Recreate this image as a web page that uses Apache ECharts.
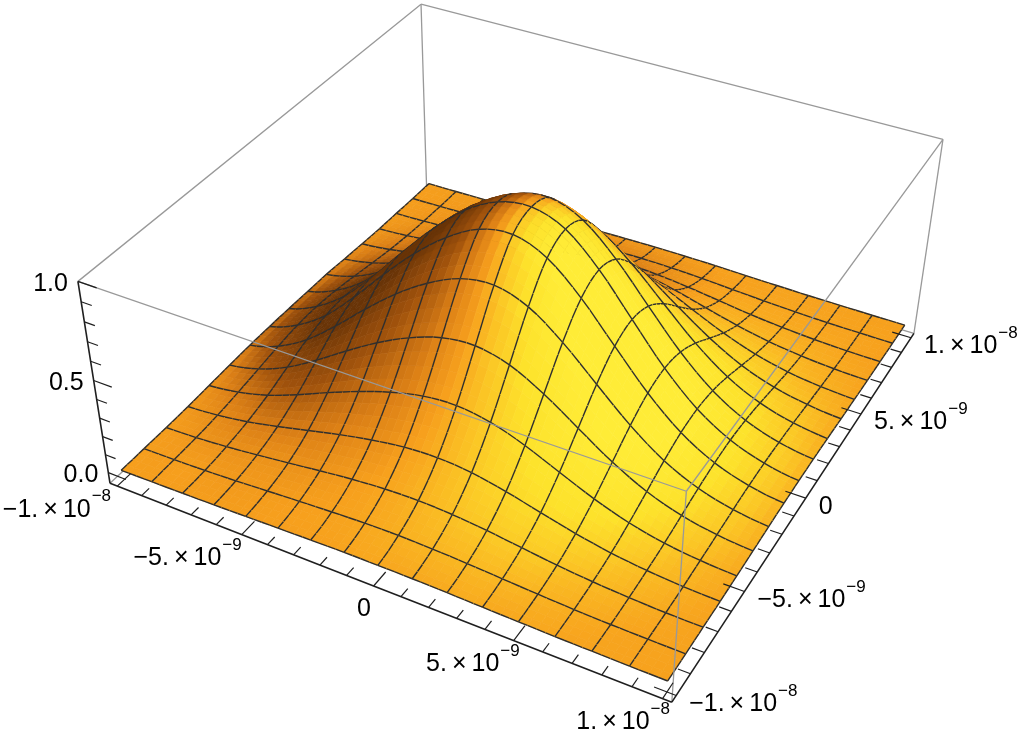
<!DOCTYPE html>
<html><head><meta charset="utf-8">
<script src="https://cdn.jsdelivr.net/npm/echarts@6/dist/echarts.min.js"></script>
<style>html,body{margin:0;padding:0;background:#fff}#c{width:1020px;height:741px}</style>
</head><body><div id="c"></div>
<script>
// ---------------- data ----------------
const GRID_X = [-1e-8,-8.75e-9,-7.5e-9,-6.25e-9,-5e-9,-3.75e-9,-2.5e-9,-1.25e-9,0,1.25e-9,2.5e-9,3.75e-9,5e-9,6.25e-9,7.5e-9,8.75e-9,1e-8];
const GRID_Y = [-1e-8,-8.75e-9,-7.5e-9,-6.25e-9,-5e-9,-3.75e-9,-2.5e-9,-1.25e-9,0,1.25e-9,2.5e-9,3.75e-9,5e-9,6.25e-9,7.5e-9,8.75e-9,1e-8];
// Z_VALUES[j][i] : j along y (front -> back), i along x (left corner -> front corner)
const Z_VALUES = [
[0.000,0.002,0.004,0.007,0.011,0.015,0.019,0.022,0.022,0.021,0.018,0.013,0.009,0.005,0.003,0.001,0.000],
[0.002,0.005,0.009,0.017,0.027,0.037,0.046,0.053,0.055,0.051,0.043,0.032,0.021,0.012,0.006,0.003,0.001],
[0.004,0.010,0.023,0.041,0.061,0.083,0.102,0.115,0.119,0.111,0.093,0.069,0.045,0.027,0.014,0.006,0.003],
[0.008,0.021,0.046,0.082,0.123,0.163,0.197,0.222,0.229,0.214,0.178,0.132,0.087,0.051,0.027,0.012,0.005],
[0.015,0.038,0.081,0.145,0.217,0.284,0.341,0.381,0.392,0.365,0.305,0.226,0.149,0.087,0.045,0.021,0.009],
[0.022,0.059,0.128,0.226,0.335,0.437,0.521,0.579,0.595,0.554,0.462,0.343,0.226,0.132,0.069,0.032,0.013],
[0.028,0.080,0.174,0.307,0.455,0.591,0.702,0.780,0.801,0.746,0.621,0.462,0.305,0.178,0.093,0.043,0.018],
[0.030,0.095,0.206,0.364,0.540,0.703,0.838,0.932,0.957,0.892,0.743,0.552,0.364,0.213,0.111,0.051,0.021],
[0.030,0.098,0.213,0.377,0.562,0.737,0.883,0.975,1.000,0.940,0.788,0.586,0.386,0.226,0.118,0.054,0.022],
[0.028,0.088,0.192,0.342,0.514,0.681,0.824,0.925,0.955,0.891,0.743,0.552,0.364,0.213,0.111,0.051,0.021],
[0.027,0.070,0.152,0.272,0.414,0.556,0.680,0.770,0.797,0.745,0.621,0.462,0.305,0.178,0.093,0.043,0.018],
[0.019,0.049,0.105,0.190,0.294,0.401,0.498,0.569,0.592,0.553,0.462,0.343,0.226,0.132,0.069,0.032,0.013],
[0.012,0.030,0.064,0.118,0.185,0.257,0.324,0.373,0.389,0.365,0.305,0.226,0.149,0.087,0.045,0.021,0.009],
[0.006,0.016,0.036,0.065,0.103,0.146,0.187,0.217,0.227,0.213,0.178,0.132,0.087,0.051,0.027,0.012,0.005],
[0.004,0.008,0.017,0.032,0.051,0.074,0.096,0.113,0.119,0.111,0.093,0.069,0.045,0.027,0.014,0.006,0.003],
[0.001,0.003,0.007,0.013,0.023,0.034,0.044,0.052,0.054,0.051,0.043,0.032,0.021,0.012,0.006,0.003,0.001],
[0.000,0.001,0.003,0.005,0.009,0.013,0.018,0.021,0.022,0.021,0.018,0.013,0.009,0.005,0.003,0.001,0.000]
];
const X_TICKS = [-1e-8,-5e-9,0,5e-9,1e-8];
const X_TICK_LABELS = [['−1.\u2009×\u200910','−8'],['−5.\u2009×\u200910','−9'],['0',''],['5.\u2009×\u200910','−9'],['1.\u2009×\u200910','−8']];
const Y_TICKS = [-1e-8,-5e-9,0,5e-9,1e-8];
const Y_TICK_LABELS = [['−1.\u2009×\u200910','−8'],['−5.\u2009×\u200910','−9'],['0',''],['5.\u2009×\u200910','−9'],['1.\u2009×\u200910','−8']];
const Z_TICKS = [0,0.5,1.0];
const Z_TICK_LABELS = ['0.0','0.5','1.0'];

// ---------------- view (camera calibration: box corner -> screen) ----------------
const VIEW = [
  [-1,-1,-1, 110,483],
  [ 1,-1,-1, 673,703],
  [ 1, 1,-1, 913,333],
  [-1,-1, 1,  78,282],
  [ 1,-1, 1, 685,490],
  [ 1, 1, 1, 944,140],
  [-1, 1, 1, 421,  4]
];
const PAD = 0.03, ZMIN = -0.06, ZMAX = 1.0, SUB = 4;
const X_LABEL_NUDGE = [0,0,0,-5,-10];

function solveLin(A, b){
  const n=b.length, M=A.map((r,i)=>r.concat([b[i]]));
  for(let c=0;c<n;c++){
    let p=c; for(let r=c+1;r<n;r++) if(Math.abs(M[r][c])>Math.abs(M[p][c])) p=r;
    const t=M[c]; M[c]=M[p]; M[p]=t;
    for(let r=0;r<n;r++){ if(r===c) continue; const f=M[r][c]/M[c][c]; for(let k=c;k<=n;k++) M[r][k]-=f*M[c][k]; }
  }
  return M.map((r,i)=>r[n]/r[i]);
}
const P = (function(){
  const rows=[], rhs=[];
  VIEW.forEach(([X,Y,Z,u,v])=>{
    rows.push([X,Y,Z,1,0,0,0,0,-u*X,-u*Y,-u*Z]); rhs.push(u);
    rows.push([0,0,0,0,X,Y,Z,1,-v*X,-v*Y,-v*Z]); rhs.push(v);
  });
  const AtA=[],Atb=[];
  for(let i=0;i<11;i++){ AtA.push(new Array(11).fill(0)); Atb.push(0); }
  rows.forEach((r,k)=>{ for(let i=0;i<11;i++){ Atb[i]+=r[i]*rhs[k]; for(let j=0;j<11;j++) AtA[i][j]+=r[i]*r[j]; } });
  return solveLin(AtA,Atb);
})();
function proj(X,Y,Z){
  const w=P[8]*X+P[9]*Y+P[10]*Z+1;
  return [(P[0]*X+P[1]*Y+P[2]*Z+P[3])/w,(P[4]*X+P[5]*Y+P[6]*Z+P[7])/w,w];
}
const XH = 1e-8*(1+PAD);
const nx = x=>x/XH, ny = y=>y/XH, nz = z=>2*(z-ZMIN)/(ZMAX-ZMIN)-1;

// ---------------- surface sampling (smooth drawing through grid values) ----------------
function cr(p0,p1,p2,p3,t){return 0.5*(2*p1+(-p0+p2)*t+(2*p0-5*p1+4*p2-p3)*t*t+(-p0+3*p1-3*p2+p3)*t*t*t);}
const NI=GRID_X.length-1, NJ=GRID_Y.length-1;
const cl=(v,a,b)=>Math.max(a,Math.min(b,v));
function zAt(gi,gj){
  const i=Math.min(Math.floor(gi),NI-1), t=gi-i, j=Math.min(Math.floor(gj),NJ-1), s=gj-j;
  const r=[];
  for(let k=-1;k<=2;k++){
    const row=Z_VALUES[cl(j+k,0,NJ)];
    r.push(cr(row[cl(i-1,0,NI)],row[i],row[cl(i+1,0,NI)],row[cl(i+2,0,NI)],t));
  }
  return cr(r[0],r[1],r[2],r[3],s);
}
function coordAt(arr,g){const i=Math.min(Math.floor(g),arr.length-2);return arr[i]+(g-i)*(arr[i+1]-arr[i]);}
const MF=NI*SUB, NF=NJ*SUB;
const S=[], W=[];
for(let q=0;q<=NF;q++){
  S.push([]); W.push([]);
  for(let p=0;p<=MF;p++){
    const gi=p/SUB, gj=q/SUB;
    const X=nx(coordAt(GRID_X,gi)), Y=ny(coordAt(GRID_Y,gj)), z=zAt(gi,gj), Z=nz(z);
    S[q].push(proj(X,Y,Z));
    W[q].push([X*0.5,Y*0.5,(Z+1)/2*0.4]);
  }
}
const wBack=proj(-1,1,-1)[2], wFront=proj(1,-1,-1)[2];
const farFirst = wBack>wFront ? -1 : 1;

const LIGHT=(function(){const v=[1,-0.3,0.55];const m=Math.hypot(...v);return v.map(a=>a/m);})();
const I0=LIGHT[2];
const STOPS=[[I0-0.6,[105,52,7]],[I0-0.32,[160,82,12]],[I0-0.13,[220,128,22]],[I0,[247,160,29]],[I0+0.15,[251,198,37]],[I0+0.3,[253,226,43]],[I0+0.46,[255,236,55]]];
function shade(n){
  const I=n[0]*LIGHT[0]+n[1]*LIGHT[1]+n[2]*LIGHT[2];
  if(I<=STOPS[0][0]) return 'rgb('+STOPS[0][1].join(',')+')';
  for(let k=1;k<STOPS.length;k++){
    if(I<=STOPS[k][0]){
      const a=STOPS[k-1],b=STOPS[k],t=(I-a[0])/(b[0]-a[0]);
      return 'rgb('+[0,1,2].map(c=>Math.round(a[1][c]+t*(b[1][c]-a[1][c]))).join(',')+')';
    }
  }
  return 'rgb('+STOPS[STOPS.length-1][1].join(',')+')';
}
const quads=[];
for(let q=0;q<NF;q++) for(let p=0;p<MF;p++){
  const a=W[q][p],b=W[q][p+1],c=W[q+1][p+1],d=W[q+1][p];
  const d1=[c[0]-a[0],c[1]-a[1],c[2]-a[2]], d2=[d[0]-b[0],d[1]-b[1],d[2]-b[2]];
  let n=[d1[1]*d2[2]-d1[2]*d2[1], d1[2]*d2[0]-d1[0]*d2[2], d1[0]*d2[1]-d1[1]*d2[0]];
  const m=Math.hypot(...n); n=n.map(v=>v/m); if(n[2]<0) n=n.map(v=>-v);
  const pts=[S[q][p],S[q][p+1],S[q+1][p+1],S[q+1][p]];
  const depth=(pts[0][2]+pts[1][2]+pts[2][2]+pts[3][2])/4;
  quads.push({p,q,pts,depth,color:shade(n),lines:[]});
}
const order=quads.map((_,k)=>k).sort((a,b)=>farFirst*(quads[a].depth-quads[b].depth));
const rank=new Array(quads.length); order.forEach((k,r)=>rank[k]=r);
const qi=(p,q)=>(p<0||q<0||p>=MF||q>=NF)?-1:q*MF+p;
function assign(seg,k1,k2){
  let k=k1; if(k<0||(k2>=0&&rank[k2]>rank[k1])) k=k2;
  quads[k].lines.push(seg);
}
for(let p=0;p<=MF;p+=SUB) for(let q=0;q<NF;q++) assign([S[q][p],S[q+1][p]],qi(p-1,q),qi(p,q));
for(let q=0;q<=NF;q+=SUB) for(let p=0;p<MF;p++) assign([S[q][p],S[q][p+1]],qi(p,q-1),qi(p,q));
const surfaceData=order.map(k=>{const Q=quads[k];return [(Q.pts[0][0]+Q.pts[2][0])/2,(Q.pts[0][1]+Q.pts[2][1])/2,k];});

// ---------------- frame ----------------
const C={};
[[-1,-1],[1,-1],[1,1],[-1,1]].forEach(([X,Y],i)=>{const nm=['L','F','R','B'][i];C[nm+'0']=[X,Y,-1];C[nm+'1']=[X,Y,1];});
const BACK_EDGES=[['R0','B0'],['B0','L0'],['B0','B1']];
const GRAY_EDGES=[['L1','F1'],['F1','R1'],['R1','B1'],['B1','L1'],['F0','F1'],['R0','R1']];
const AXIS_EDGES=[['L0','F0'],['F0','R0'],['L0','L1']];

function lineEl(api,a,b,stroke,w){
  const A=api.coord([a[0],a[1]]),B=api.coord([b[0],b[1]]);
  return {type:'line',shape:{x1:A[0],y1:A[1],x2:B[0],y2:B[1]},style:{stroke:stroke,lineWidth:w}};
}
const pc=c=>proj(c[0],c[1],c[2]);
const FONT='"Liberation Sans", Arial, sans-serif';
const measure=(function(){const ctx=document.createElement('canvas').getContext('2d');
  return parts=>{ctx.font='25px '+FONT;let w=ctx.measureText(parts[0]).width;
    if(parts[1]){ctx.font='17px '+FONT;w+=ctx.measureText(parts[1]).width+1;}return w;};})();
function richLabel(parts){return parts[1]?'{b|'+parts[0]+'}{s|'+parts[1]+'}':'{b|'+parts[0]+'}';}
const RICH={b:{fontSize:25,fontFamily:FONT,color:'#1a1a1a',lineHeight:34,verticalAlign:'bottom'},
            s:{fontSize:17,fontFamily:FONT,color:'#1a1a1a',lineHeight:34,verticalAlign:'top',padding:[0,0,0,1]}};

const option={
  animation:false,
  backgroundColor:'#ffffff',
  grid:{left:0,right:0,top:0,bottom:0},
  xAxis:{type:'value',min:0,max:1020,show:false},
  yAxis:{type:'value',min:0,max:741,inverse:true,show:false},
  series:[
    {type:'custom',z:1,data:[[0,0]],renderItem:(params,api)=>({type:'group',children:BACK_EDGES.map(e=>lineEl(api,pc(C[e[0]]),pc(C[e[1]]),'#999999',1.3))})},
    {type:'custom',z:2,data:surfaceData,renderItem:(params,api)=>{
      const Q=quads[api.value(2)];
      const pts=Q.pts.map(s=>api.coord([s[0],s[1]]));
      const ch=[{type:'polygon',shape:{points:pts},style:{fill:Q.color,stroke:Q.color,lineWidth:0.7}}];
      Q.lines.forEach(sg=>ch.push(lineEl(api,sg[0],sg[1],'#2f2f2f',1.4)));
      return {type:'group',children:ch};
    }},
    {type:'custom',z:3,data:[[0,0]],renderItem:(params,api)=>{
      const ch=[];
      GRAY_EDGES.forEach(e=>ch.push(lineEl(api,pc(C[e[0]]),pc(C[e[1]]),'#999999',1.3)));
      AXIS_EDGES.forEach(e=>ch.push(lineEl(api,pc(C[e[0]]),pc(C[e[1]]),'#1f1f1f',1.6)));
      for(let k=0;k<=20;k++){
        const x=-1e-8+k*1e-9, len=(k%5===0)?0.07:0.04;
        ch.push(lineEl(api,proj(nx(x),-1,-1),proj(nx(x),-1+len,-1),'#1f1f1f',1.2));
        const y=x;
        ch.push(lineEl(api,proj(1,ny(y),-1),proj(1-len,ny(y),-1),'#1f1f1f',1.2));
      }
      for(let k=0;k<=10;k++){
        const z=k*0.1, len=(k%5===0)?0.07:0.04;
        ch.push(lineEl(api,proj(-1,-1,nz(z)),proj(-1+len,-1,nz(z)),'#1f1f1f',1.2));
      }
      X_TICKS.forEach((x,i)=>{const a=api.coord(proj(nx(x),-1,-1).slice(0,2));
        const w=measure(X_TICK_LABELS[i]);
        ch.push({type:'text',style:{text:richLabel(X_TICK_LABELS[i]),rich:RICH,x:a[0]-16.6+6.24*i-0.404*w+X_LABEL_NUDGE[i],y:a[1]+19,align:'center',verticalAlign:'middle'}});});
      Y_TICKS.forEach((y,i)=>{const a=api.coord(proj(1,ny(y),-1).slice(0,2));
        ch.push({type:'text',style:{text:richLabel(Y_TICK_LABELS[i]),rich:RICH,x:a[0]+13,y:a[1]+4,align:'left',verticalAlign:'middle'}});});
      Z_TICKS.forEach((z,i)=>{const a=api.coord(proj(-1,-1,nz(z)).slice(0,2));
        ch.push({type:'text',style:{text:'{b|'+Z_TICK_LABELS[i]+'}',rich:RICH,x:a[0]-10,y:a[1]-2,align:'right',verticalAlign:'middle'}});});
      return {type:'group',children:ch};
    }}
  ]
};
echarts.init(document.getElementById('c')).setOption(option);
</script></body></html>
